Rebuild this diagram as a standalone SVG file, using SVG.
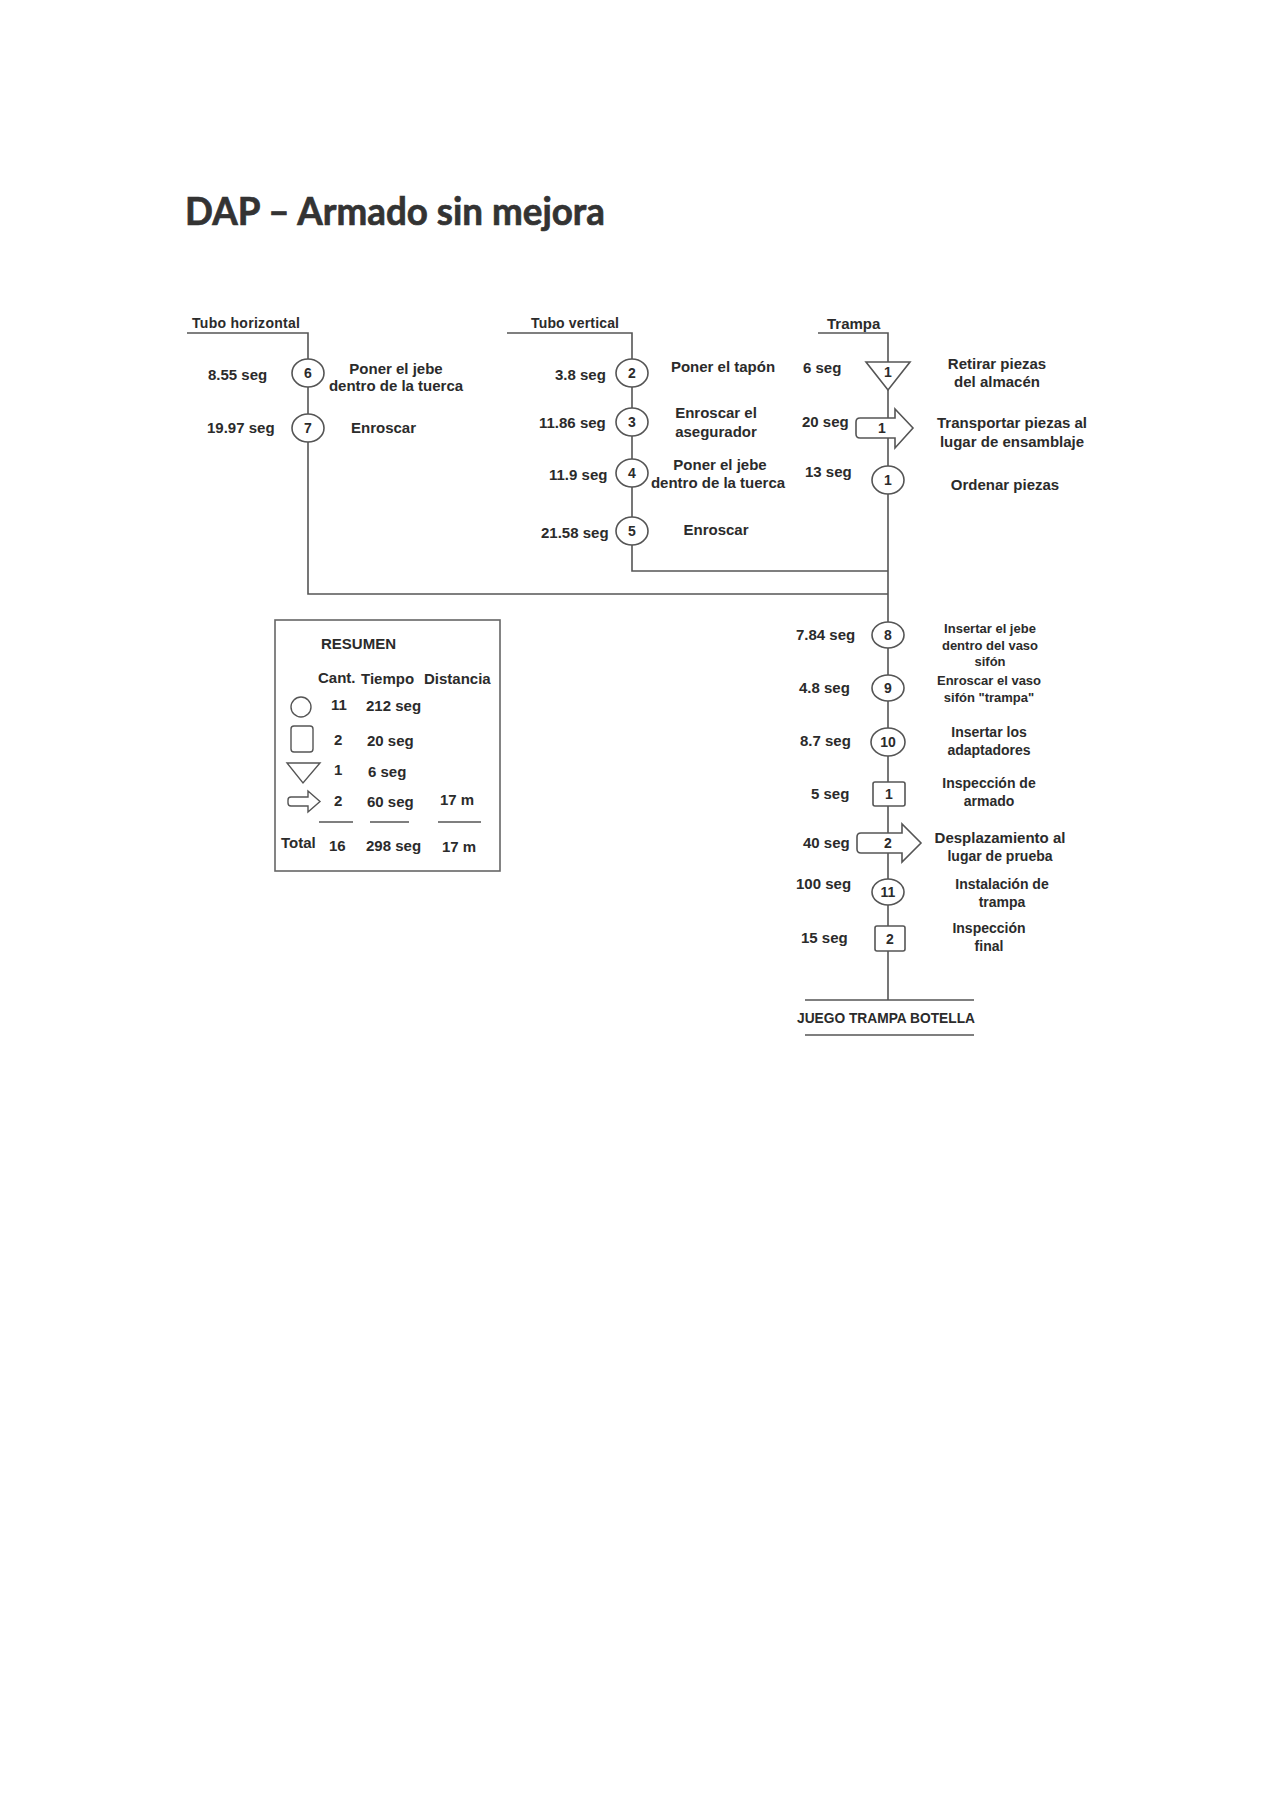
<svg xmlns="http://www.w3.org/2000/svg" width="1280" height="1811" viewBox="0 0 1280 1811">
<style>
  .t{font-family:"Liberation Sans",Arial,sans-serif;font-weight:bold;font-size:15px;fill:#2b2b2b}
  .s13{font-size:13px}
  .s14{font-size:14px}
  .m{text-anchor:middle}
  .ln{fill:none;stroke:#555;stroke-width:1.6}
  .sh{fill:#fff;stroke:#555;stroke-width:1.6}
  .n{font-family:"Liberation Sans",Arial,sans-serif;font-weight:bold;font-size:14px;fill:#2b2b2b;text-anchor:middle}
</style>
<rect width="1280" height="1811" fill="#fff"/>
<text x="185" y="225" font-family="Lato, 'Open Sans', sans-serif" font-weight="bold" font-size="39" fill="#333" stroke="#333" stroke-width="0.7" textLength="420" lengthAdjust="spacingAndGlyphs">DAP – Armado sin mejora</text>

<g id="connectors">
  <path class="ln" d="M187,333 H308 V594 H888"/>
  <path class="ln" d="M507,333 H632 V571 H888"/>
  <path class="ln" d="M818,333 H888 V1000"/>
  <path class="ln" d="M805,1000 H974"/>
  <path class="ln" d="M805,1035 H974"/>
</g>

<g id="headers">
  <text class="t s14" x="192" y="328" textLength="108">Tubo horizontal</text>
  <text class="t s14" x="531" y="328" textLength="88">Tubo vertical</text>
  <text class="t" x="827" y="329">Trampa</text>
</g>

<g id="op6"><ellipse class="sh" cx="308" cy="373" rx="16" ry="14"/><text class="n" x="308" y="378">6</text>
  <text class="t" x="208" y="380">8.55 seg</text>
  <text class="t m" x="396" y="374">Poner el jebe</text><text class="t m" x="396" y="391">dentro de la tuerca</text></g>
<g id="op7"><ellipse class="sh" cx="308" cy="428" rx="16" ry="14"/><text class="n" x="308" y="433">7</text>
  <text class="t" x="207" y="433">19.97 seg</text>
  <text class="t" x="351" y="433">Enroscar</text></g>

<g id="op2"><ellipse class="sh" cx="632" cy="373" rx="16" ry="14"/><text class="n" x="632" y="378">2</text>
  <text class="t" x="555" y="380">3.8 seg</text>
  <text class="t m" x="723" y="372">Poner el tapón</text></g>
<g id="op3"><ellipse class="sh" cx="632" cy="422" rx="16" ry="14"/><text class="n" x="632" y="427">3</text>
  <text class="t" x="539" y="428">11.86 seg</text>
  <text class="t m" x="716" y="418">Enroscar el</text><text class="t m" x="716" y="437">asegurador</text></g>
<g id="op4"><ellipse class="sh" cx="632" cy="473" rx="16" ry="14"/><text class="n" x="632" y="478">4</text>
  <text class="t" x="549" y="480">11.9 seg</text>
  <text class="t m" x="720" y="470">Poner el jebe</text><text class="t m" x="718" y="488">dentro de la tuerca</text></g>
<g id="op5"><ellipse class="sh" cx="632" cy="531" rx="16" ry="14"/><text class="n" x="632" y="536">5</text>
  <text class="t" x="541" y="538">21.58 seg</text>
  <text class="t m" x="716" y="535">Enroscar</text></g>

<g id="alm1"><path class="sh" d="M866,362 H910 L888,390 Z"/><text class="n" x="888" y="377">1</text>
  <text class="t" x="803" y="373">6 seg</text>
  <text class="t m" x="997" y="369">Retirar piezas</text><text class="t m" x="997" y="387">del almacén</text></g>
<g id="tr1"><path class="sh" d="M860,418 H895 V409 L913,428 L895,448 V438 H860 Q856,438 856,434 V422 Q856,418 860,418 Z"/><text class="n" x="882" y="433">1</text>
  <text class="t" x="802" y="427">20 seg</text>
  <text class="t m" x="1012" y="428">Transportar piezas al</text><text class="t m" x="1012" y="447">lugar de ensamblaje</text></g>
<g id="op1"><ellipse class="sh" cx="888" cy="480" rx="16" ry="14"/><text class="n" x="888" y="485">1</text>
  <text class="t" x="805" y="477">13 seg</text>
  <text class="t m" x="1005" y="490">Ordenar piezas</text></g>

<g id="op8"><ellipse class="sh" cx="888" cy="635" rx="16" ry="13"/><text class="n" x="888" y="640">8</text>
  <text class="t" x="796" y="640">7.84 seg</text>
  <text class="t s13 m" x="990" y="633">Insertar el jebe</text><text class="t s13 m" x="990" y="650">dentro del vaso</text><text class="t s13 m" x="990" y="666">sifón</text></g>
<g id="op9"><ellipse class="sh" cx="888" cy="688" rx="16" ry="13"/><text class="n" x="888" y="693">9</text>
  <text class="t" x="799" y="693">4.8 seg</text>
  <text class="t s13 m" x="989" y="685">Enroscar el vaso</text><text class="t s13 m" x="989" y="702">sifón "trampa"</text></g>
<g id="op10"><ellipse class="sh" cx="888" cy="742" rx="17" ry="14"/><text class="n" x="888" y="747" font-size="13">10</text>
  <text class="t" x="800" y="746">8.7 seg</text>
  <text class="t s14 m" x="989" y="737">Insertar los</text><text class="t s14 m" x="989" y="755">adaptadores</text></g>
<g id="insp1"><rect class="sh" x="873" y="782" width="32" height="24" rx="2"/><text class="n" x="889" y="799">1</text>
  <text class="t" x="811" y="799">5 seg</text>
  <text class="t s14 m" x="989" y="788">Inspección de</text><text class="t s14 m" x="989" y="806">armado</text></g>
<g id="tr2"><path class="sh" d="M861,833 H902 V824 L921,843 L902,862 V853 H861 Q857,853 857,849 V837 Q857,833 861,833 Z"/><text class="n" x="888" y="848" font-size="15">2</text>
  <text class="t" x="803" y="848">40 seg</text>
  <text class="t m" x="1000" y="843">Desplazamiento al</text><text class="t s14 m" x="1000" y="861">lugar de prueba</text></g>
<g id="op11"><ellipse class="sh" cx="888" cy="892" rx="16" ry="13"/><text class="n" x="888" y="897" font-size="13">11</text>
  <text class="t" x="796" y="889">100 seg</text>
  <text class="t s14 m" x="1002" y="889">Instalación de</text><text class="t s14 m" x="1002" y="907">trampa</text></g>
<g id="insp2"><rect class="sh" x="875" y="926" width="30" height="25" rx="2"/><text class="n" x="890" y="944">2</text>
  <text class="t" x="801" y="943">15 seg</text>
  <text class="t s14 m" x="989" y="933">Inspección</text><text class="t s14 m" x="989" y="951">final</text></g>

<g id="final"><text class="t m" x="886" y="1023" font-size="13" textLength="178" lengthAdjust="spacingAndGlyphs">JUEGO TRAMPA BOTELLA</text></g>

<g id="resumen">
  <rect x="275" y="620" width="225" height="251" fill="#fff" stroke="#666" stroke-width="1.6"/>
  <text class="t" x="321" y="649">RESUMEN</text>
  <text class="t" x="318" y="683">Cant.</text>
  <text class="t" x="361" y="684">Tiempo</text>
  <text class="t" x="424" y="684">Distancia</text>
  <circle cx="301" cy="707" r="10" fill="#fff" stroke="#555" stroke-width="1.4"/>
  <text class="t" x="331" y="710">11</text><text class="t" x="366" y="711">212 seg</text>
  <rect x="291" y="726" width="22" height="26" rx="3" fill="#fff" stroke="#555" stroke-width="1.4"/>
  <text class="t" x="334" y="745">2</text><text class="t" x="367" y="746">20 seg</text>
  <path d="M287,763 H320 L303,783 Z" fill="#fff" stroke="#555" stroke-width="1.4"/>
  <text class="t" x="334" y="775">1</text><text class="t" x="368" y="777">6 seg</text>
  <path d="M291,797 H308 V791 L320,801.5 L308,812 V806 H291 Q288,806 288,803 V800 Q288,797 291,797 Z" fill="#fff" stroke="#555" stroke-width="1.4"/>
  <text class="t" x="334" y="806">2</text><text class="t" x="367" y="807">60 seg</text><text class="t" x="440" y="805">17 m</text>
  <path class="ln" d="M319,822 H353 M370,822 H409 M438,822 H481" stroke-width="1.2"/>
  <text class="t" x="281" y="848">Total</text><text class="t" x="329" y="851">16</text><text class="t" x="366" y="851">298 seg</text><text class="t" x="442" y="852">17 m</text>
</g>
</svg>
